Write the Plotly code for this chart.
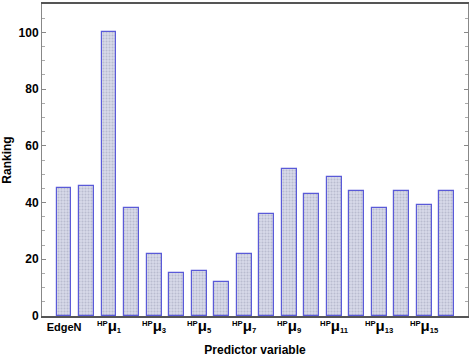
import plotly.graph_objects as go

categories = ["EdgeN"] + ["HPμ%d" % i for i in range(0, 17)]
values = [45, 46, 100, 38, 22, 15, 16, 12, 22, 36, 52, 43, 49, 44, 38, 44, 39, 44]
tick_positions = [0, 2, 4, 6, 8, 10, 12, 14, 16]
tick_labels = ["<b>EdgeN</b>"] + ["<b><sup>HP</sup><span style='font-size:15px'>μ</span><sub>%d</sub></b>" % n for n in [1, 3, 5, 7, 9, 11, 13, 15]]

xpos = list(range(len(categories)))

fig = go.Figure()
fig.add_trace(go.Bar(
    x=xpos, y=values, width=0.66,
    hovertext=categories,
    marker=dict(
        color="#cfd1e3",
        line=dict(color="#5a5ad8", width=1.2),
        pattern=dict(shape=".", size=3, solidity=0.35, fgcolor="#9c9eb6", bgcolor="#d6d8e8"),
    ),
))

fig.update_layout(
    width=474, height=358,
    margin=dict(l=42, r=6, t=4, b=42, autoexpand=False),
    plot_bgcolor="white", paper_bgcolor="white",
    font=dict(family="Liberation Sans, Arial, sans-serif", size=11, color="black"),
    showlegend=False,
    bargap=0,
)
fig.update_xaxes(
    automargin=False,
    range=[-0.98, 17.95],
    tickmode="array", tickvals=tick_positions, ticktext=tick_labels,
    showline=True, linecolor="#555555", linewidth=1.5, mirror=True,
    ticks="", showgrid=False, zeroline=False,
    tickfont=dict(family="Liberation Sans, Arial, sans-serif", size=11, color="black"),
    title=dict(text="<b>Predictor variable</b>", font=dict(size=12), standoff=11),
)
fig.update_yaxes(
    automargin=False,
    range=[0, 110],
    tickmode="array", tickvals=[0, 20, 40, 60, 80, 100],
    ticktext=["<b>%d</b>" % v for v in [0, 20, 40, 60, 80, 100]],
    tickfont=dict(size=12),
    showline=True, linecolor="#888888", linewidth=1, mirror="allticks",
    ticks="inside", ticklen=4, tickcolor="#888888",
    minor=dict(dtick=5, ticks="inside", ticklen=3, tickcolor="#aaaaaa"),
    showgrid=False, zeroline=False,
    title=dict(text="<b>Ranking</b>", font=dict(size=12), standoff=8),
)

fig.write_html("out.html", config={"displayModeBar": False},
               post_script="document.body.style.margin='0';document.body.style.overflow='hidden';")
